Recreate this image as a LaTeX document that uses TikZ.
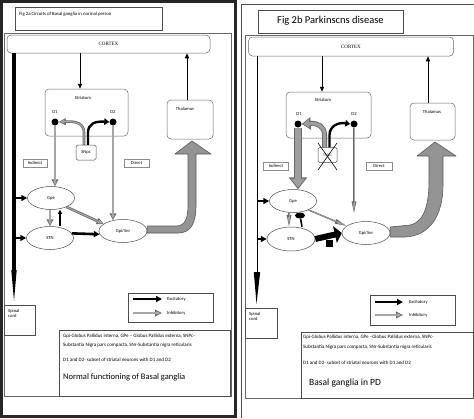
\documentclass[tikz,border=0pt]{standalone}
\usepackage{fontspec}
\setmainfont{Carlito}
\newfontfamily\serifL{Liberation Serif}
\usetikzlibrary{arrows.meta,shapes.geometric}
\newcommand\inhpath[1]{\draw[inhO] #1; \draw[inhI] #1;}
\newcommand\inhthin[1]{\draw[inhOt] #1; \draw[inhIt] #1;}
\newcommand\inhbig[1]{\draw[inhOb] #1; \draw[inhIb] #1;}
\begin{document}
\begin{tikzpicture}[x=1pt,y=-1pt,
  tiny/.style={font=\fontsize{4.6}{5.6}\selectfont, inner sep=0pt},
  small/.style={font=\fontsize{5}{6}\selectfont, inner sep=0pt, anchor=west},
  box/.style={draw=black!70, line width=0.5pt},
  rbox/.style={draw=black!60, line width=0.5pt, rounded corners=4pt},
  ell/.style={ellipse, draw=black!70, line width=0.5pt, minimum width=47pt, minimum height=23pt, inner sep=0pt, font=\fontsize{4.6}{5.6}\selectfont},
  exc/.style={line width=2pt, -{Triangle[length=6pt,width=6pt]}},
  thinexc/.style={line width=0.8pt, -{Triangle[length=5pt,width=4pt]}},
  inhO/.style={line width=2.6pt, draw=black!60, -{Triangle[length=7pt,width=6.5pt]}},
  inhI/.style={line width=1.1pt, draw=black!35, -{Triangle[length=4.5pt,width=3.4pt]}, shorten >=1.2pt, shorten <=0.4pt},
  inhOt/.style={line width=1.4pt, draw=black!60, -{Triangle[length=12pt,width=4.5pt]}},
  inhIt/.style={line width=0.5pt, draw=black!35, -{Triangle[length=8pt,width=2pt]}, shorten >=1.8pt},
  inhOb/.style={line width=5pt, draw=black!60, -{Triangle[length=9pt,width=12pt]}},
  inhIb/.style={line width=3.4pt, draw=black!38, -{Triangle[length=6pt,width=8.5pt]}, shorten >=1.5pt, shorten <=0.5pt},
  dot/.style={circle, fill=black, inner sep=0pt, minimum size=7pt},
  bigarrow/.style={fill=black!42, draw=black!65, line width=0.6pt, line join=round},
  ctx/.style={rbox, font=\serifL\fontsize{5}{6}\selectfont}
]
\useasboundingbox (0,0) rectangle (474,418);
\fill[white] (0,0) rectangle (474,418);

% ================= LEFT PANEL =================
\draw[line width=3pt, black!85] (1.5,1.5) rectangle (235,416.5);
\draw[black!60, line width=0.5pt] (4,33) rectangle (231,396);
\node[box, minimum width=147pt, minimum height=23pt] (titL) at (88.5,18.5) {};
\node[tiny, anchor=west, font=\fontsize{4.8}{5.6}\selectfont] (titLt) at (19,14) {Fig 2a Circuits of Basal ganglia in normal person};

\node[ctx, minimum width=203pt, minimum height=18pt] (ctxL) at (108.5,44) {CORTEX};
\node[rbox, minimum width=83pt, minimum height=47pt] (strL) at (86.5,112.5) {};
\node[tiny] (strLt) at (83,98) {Striatum};
\node[tiny] (d1Lt) at (55,112) {D1};
\node[tiny] (d2Lt) at (113,112) {D2};
\node[dot] (d1L) at (55,122) {};
\node[dot] (d2L) at (113,122) {};
\node[rbox, minimum width=46pt, minimum height=39pt] (thL) at (190,119.5) {};
\node[tiny] (thLt) at (185,109) {Thalamus};
\node[box, rounded corners=1.5pt, minimum width=20pt, minimum height=15pt, tiny] (snL) at (86,152.5) {SNpc};
\node[box, draw=black!45, minimum width=24pt, minimum height=8pt, tiny] (indL) at (35,163) {Indirect};
\node[box, draw=black!45, minimum width=25pt, minimum height=8pt, tiny] (dirL) at (136.5,163) {Direct};
\node[ell] (gpeL) at (51,198) {Gpe};
\node[ell] (stnL) at (50,238) {STN};
\node[ell, minimum width=48pt] (gpiL) at (123,231) {Gpi/Snr};
\node[box, minimum width=31pt, minimum height=30pt] (spL) at (19.5,320) {};
\node[tiny, align=left, anchor=north west] (spLt) at (8,309) {Spinal\\cord};

\coordinate (cL) at (80,0);
\coordinate (vL) at (14,0);
\draw[thinexc] (ctxL.south -| cL) -- (strL.north -| cL);
\draw[thinexc] (thL.north -| 187,0) -- (ctxL.south -| 187,0);
\draw[line width=4pt] (ctxL.south -| vL) -- (14,272);
\fill (11.3,270) -- (16.7,270) -- ([yshift=4pt]spL.north -| vL) -- cycle;
\draw[exc] (vL |- gpeL.west) -- (gpeL.west);
\draw[exc] (vL |- stnL.west) -- (stnL.west);

\inhpath{(d1L.south) -- (d1L.south |- gpeL.north)}
\inhpath{(d2L.south) -- ([yshift=-1pt]d2L.south |- gpiL.north)}
\draw[line width=2.4pt, -{Triangle[length=5pt,width=6.5pt]}] ([xshift=2pt]snL.north) -- ++(0,-12) .. controls +(0,-9) and (95,121) .. (d2L.west);
\inhpath{([xshift=-2pt]snL.north) -- ++(0,-12) .. controls +(0,-9) and (77,121) .. (d1L.east)}
\inhpath{([xshift=-1pt]gpeL.south) -- ([xshift=-1pt]gpeL.south |- stnL.north)}
\draw[line width=1.3pt, -{Triangle[length=4pt,width=4pt]}] ([xshift=10pt]stnL.north) -- ([xshift=10pt]stnL.north |- gpeL.south);
\inhpath{(gpeL.-30) -- (gpiL.160)}
\draw[exc, line width=2.6pt] (stnL.12) -- (gpiL.188);

% big curved arrow Gpi -> Thalamus
\draw[bigarrow] (gpiL.east |- 0,226) -- (176,226) .. controls (185,226) and (188,219) .. (188,205) -- (188,154) -- (175,154) -- (192,141) -- (211,154) -- (196,154) -- (196,205) .. controls (196,223) and (191,233) .. (178,233) -- (gpiL.east |- 0,233) -- cycle;

% legend
\node[box, minimum width=85pt, minimum height=29pt] (legL) at (170.5,307.5) {};
\coordinate (le1a) at (133,299); \coordinate (le1b) at (162,299);
\coordinate (le2a) at (133,313); \coordinate (le2b) at (162,313);
\draw[exc, line width=1.8pt] (le1a) -- (le1b);
\inhpath{(le2a) -- (le2b)}
\node[tiny, anchor=west] (exLt) at (167,299) {Excitatory};
\node[tiny, anchor=west] (inLt) at (167,313) {Inhibitory};

% description
\node[box, minimum width=171pt, minimum height=66pt] (descL) at (144.5,363) {};
\node[small] (dl1) at (63,336) {Gpi-Globus Pallidus interna, GPe – Globus Pallidus externa, SNPc-};
\node[small] (dl2) at (63,345) {Substantia Nigra pars compacta, SNr-Substantia nigra reticularis};
\node[small] (dl3) at (63,359.5) {D1 and D2- subset of striatal neurons with D1 and D2};
\node[small, font=\fontsize{8.5}{10}\selectfont] (dl4) at (63,377) {Normal functioning of Basal ganglia};

% ================= RIGHT PANEL =================
\draw[black!70, line width=0.6pt] (474,4) -- (241,4) -- (241,418);
\draw[black!60, line width=0.5pt] (245,35) rectangle (473,398);
\node[box, minimum width=145pt, minimum height=23pt] (titR) at (330.5,21.5) {};
\node[anchor=west, inner sep=0pt, font=\fontsize{10.5}{12}\selectfont] (titRt) at (277,21) {Fig 2b Parkinscns disease};

\node[ctx, minimum width=205pt, minimum height=19pt] (ctxR) at (351,46.5) {CORTEX};
\node[rbox, minimum width=85pt, minimum height=46pt] (strR) at (328.5,115) {};
\node[tiny] (strRt) at (323,100) {Striatum};
\node[tiny] (d1Rt) at (299,114) {D1};
\node[tiny] (d2Rt) at (354,114) {D2};
\node[dot] (d1R) at (298,124) {};
\node[dot] (d2R) at (354,124) {};
\node[rbox, minimum width=45pt, minimum height=37pt] (thR) at (432.5,121.5) {};
\node[tiny] (thRt) at (432,112) {Thalamus};
\node[box, rounded corners=1.5pt, minimum width=19pt, minimum height=15pt, tiny, text=black!60] (snR) at (327.5,155) {SNpc};
\node[box, draw=black!45, minimum width=25pt, minimum height=8pt, tiny] (indR) at (276,166) {Indirect};
\node[box, draw=black!45, minimum width=26pt, minimum height=8pt, tiny] (dirR) at (379,166) {Direct};
\node[ell] (gpeR) at (293,201) {Gpe};
\node[ell, minimum width=48pt, minimum height=24pt] (stnR) at (291,239) {STN};
\node[ell, minimum width=48pt] (gpiR) at (366,233) {Gpi/Snr};
\node[box, minimum width=32pt, minimum height=30pt] (spR) at (261,323) {};
\node[tiny, align=left, anchor=north west] (spRt) at (249,312) {Spinal\\cord};

\coordinate (cR) at (322,0);
\coordinate (vR) at (257,0);
\draw[thinexc] (ctxR.south -| cR) -- (strR.north -| cR);
\draw[thinexc] (thR.north -| 428,0) -- (ctxR.south -| 428,0);
\draw[line width=0.7pt] (ctxR.south -| vR) -- (257,274);
\fill (253.8,272) -- (260.2,272) -- ([yshift=4pt]spR.north -| 256.5,0) -- cycle;
\node[circle, fill=black, inner sep=0pt, minimum size=5.5pt] (endR) at (256.5,276) {};
\draw[exc] (vR |- gpeR.west) -- (gpeR.west);
\draw[exc] (vR |- stnR.west) -- (stnR.west);

% thick gray D1 -> GPe
\draw[line width=8pt, draw=black!60, -{Triangle[length=12pt,width=18pt]}] (d1R.south) -- (d1R.south |- gpeR.north);
\draw[line width=6pt, draw=black!38, -{Triangle[length=9pt,width=13.5pt]}, shorten >=1.6pt, shorten <=0.5pt] (d1R.south) -- (d1R.south |- gpeR.north);
\inhthin{(d2R.south) -- ([yshift=8pt]d2R.south |- gpiR.north)}
\draw[line width=2.4pt, -{Triangle[length=5pt,width=6.5pt]}] ([xshift=2pt]snR.north) -- ++(0,-12) .. controls +(0,-9) and (338,122) .. (d2R.west);
\inhbig{([xshift=-3pt]snR.north) -- ++(0,-12) .. controls +(0,-9) and (318,123) .. (d1R.east)}
\draw[black, line width=0.6pt] (318,143) -- (337,170) (337,143) -- (318,170);
\inhthin{([xshift=-4pt]gpeR.south) -- ([xshift=-2pt]stnR.north)}
\node[fill=black, ellipse, minimum width=10pt, minimum height=6pt, inner sep=0pt] (blobR) at (300,215.5) {};
\draw[line width=1.6pt] ([xshift=11pt]stnR.north) -- (blobR);
\inhthin{(gpeR.-30) -- (gpiR.160)}
\draw[line width=6pt, -{Triangle[length=7pt,width=17pt]}] (stnR.east) -- (gpiR.west);
\fill (326,240) rectangle (333,247);

\draw[bigarrow] (gpiR.east |- 0,227) -- (410,225) .. controls (426,222) and (429,200) .. (429,180) -- (429,156) -- (417,156) -- (435,142) -- (456,156) -- (443,156) -- (443,185) .. controls (443,215) and (430,236) .. (405,237) -- (gpiR.east |- 0,237) -- cycle;

% legend
\node[box, minimum width=85pt, minimum height=30pt] (legR) at (412.5,310) {};
\coordinate (re1a) at (375,302); \coordinate (re1b) at (403,302);
\coordinate (re2a) at (375,315); \coordinate (re2b) at (403,315);
\draw[exc, line width=1.8pt] (re1a) -- (re1b);
\inhpath{(re2a) -- (re2b)}
\node[tiny, anchor=west] (exRt) at (409,302) {Excitatory};
\node[tiny, anchor=west] (inRt) at (409,315) {Inhibitory};

% description
\node[box, minimum width=172pt, minimum height=66pt] (descR) at (387,365) {};
\node[small] (dr1) at (303,337) {Gpi-Globus Pallidus interna, GPe –Globus Pallidus externa, SNPc-};
\node[small] (dr2) at (303,347) {Substantia Nigra pars compacta, SNr-Substantia nigra reticularis};
\node[small] (dr3) at (303,363) {D1 and D2- subset of striatal neurons with D1 and D2};
\node[small, font=\fontsize{9.5}{11}\selectfont] (dr4) at (309,383) {Basal ganglia in PD};
\end{tikzpicture}
\end{document}
